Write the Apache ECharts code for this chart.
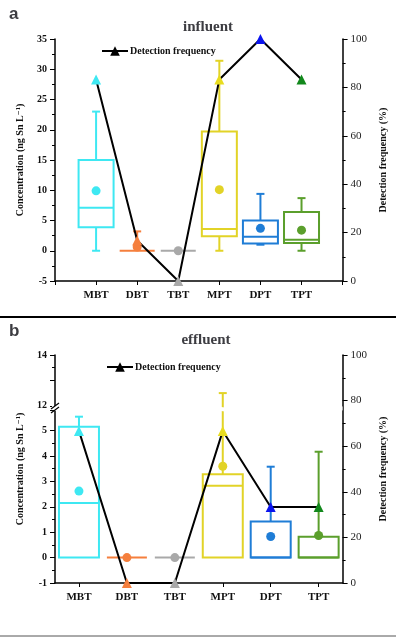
<!doctype html>
<html>
<head>
<meta charset="utf-8">
<title>Organotin concentration - influent / effluent</title>
<script src="https://cdn.jsdelivr.net/npm/echarts@6/dist/echarts.min.js"></script>
<style>
  html, body { margin: 0; padding: 0; background: #fff; }
  #main { width: 396px; height: 637px; }
</style>
</head>
<body>
<div id="main"></div>
<script>
var compounds = ['MBT', 'DBT', 'TBT', 'MPT', 'DPT', 'TPT'];

// box data: [min, q1, median, q3, max]
var influentBox = [
    [0, 3.9, 7.1, 15.0, 23.0],
    [0, 0, 0, 0, 3.2],
    [0, 0, 0, 0, 0],
    [0, 2.4, 3.6, 19.7, 31.4],
    [1.0, 1.2, 2.3, 5.0, 9.4],
    [0, 1.3, 1.8, 6.4, 8.7]
];
var influentMean = [9.9, 0.6, 0, 10.1, 3.7, 3.4];
var influentFreq = [83.3, 16.7, 0, 83.3, 100, 83.3];

var effluentBox = [
    [0, 0, 2.15, 5.15, 5.55],
    [0, 0, 0, 0, 0],
    [0, 0, 0, 0, 0],
    [0, 0, 2.83, 3.28, 12.5],
    [0, 0, 0, 1.42, 3.58],
    [0, 0, 0, 0.82, 4.17]
];
var effluentMean = [2.62, 0, 0, 3.6, 0.83, 0.87];
var effluentFreq = [66.7, 0, 0, 66.7, 33.3, 33.3];

var boxColors = ['#3ee8f2', '#f57f3d', '#a9a9a9', '#e2d327', '#1f7dd6', '#5b9f2c'];
var triColors = ['#3ee8f2', '#f57f3d', '#a9a9a9', '#e8dc1e', '#0b14ee', '#12881c'];

var serif = '"Liberation Serif", "DejaVu Serif", serif';

var chart = echarts.init(document.getElementById('main'));

function boxRenderer(boxWidth, capWidth) {
    return function (params, api) {
        var x = api.value(0);
        var v = [api.value(1), api.value(2), api.value(3), api.value(4), api.value(5)];
        var p = v.map(function (val) { return api.coord([x, val]); });
        var cx = p[0][0];
        var hw = boxWidth / 2, hc = capWidth / 2;
        var color = boxColors[params.dataIndex];
        var style = { stroke: color, lineWidth: 2, fill: null };
        var kids = [];
        function seg(x1, y1, x2, y2) {
            kids.push({ type: 'line', shape: { x1: x1, y1: y1, x2: x2, y2: y2 }, style: style });
        }
        if (v[4] > v[3]) {
            seg(cx, p[3][1], cx, p[4][1]);
            seg(cx - hc, p[4][1], cx + hc, p[4][1]);
        }
        if (v[0] < v[1]) {
            seg(cx, p[1][1], cx, p[0][1]);
            seg(cx - hc, p[0][1], cx + hc, p[0][1]);
        }
        if (v[3] > v[1]) {
            kids.push({
                type: 'rect',
                shape: { x: cx - hw, y: p[3][1], width: boxWidth, height: p[1][1] - p[3][1] },
                style: style
            });
        }
        seg(cx - hw, p[2][1], cx + hw, p[2][1]);
        return { type: 'group', children: kids };
    };
}

function boxData(rows, offset) {
    return rows.map(function (r, i) { return [i + offset].concat(r); });
}

var tickLabel = { fontFamily: serif, fontWeight: 'bold', fontSize: 10, color: '#111' };
var rightLabel = { fontFamily: serif, fontSize: 11, color: '#222' };
var axisLine = { show: true, onZero: false, lineStyle: { color: '#000', width: 1.5 } };
var nameStyle = { fontFamily: serif, fontWeight: 'bold', fontSize: 10, color: '#111' };

chart.setOption({
    animation: false,
    backgroundColor: '#fff',
    title: [
        { text: 'a', left: 4, top: 1, textStyle: { fontFamily: '"Liberation Sans", Arial', fontWeight: 'bold', fontSize: 17 } },
        { text: 'influent', left: 203, textAlign: 'center', top: 15, textStyle: { fontFamily: serif, fontWeight: 'bold', fontSize: 15 } },
        { text: 'b', left: 4, top: 318, textStyle: { fontFamily: '"Liberation Sans", Arial', fontWeight: 'bold', fontSize: 17 } },
        { text: 'effluent', left: 201, textAlign: 'center', top: 328, textStyle: { fontFamily: serif, fontWeight: 'bold', fontSize: 15 } }
    ],
    legend: [
        {
            left: 96, top: 41, itemWidth: 26, itemHeight: 12, itemGap: 2,
            data: ['Detection frequency'],
            textStyle: { fontFamily: serif, fontWeight: 'bold', fontSize: 10, color: '#111', padding: [0, 0, 0, -3] }
        },
        {
            left: 101, top: 357, itemWidth: 26, itemHeight: 12,
            data: ['Detection frequency'],
            textStyle: { fontFamily: serif, fontWeight: 'bold', fontSize: 10, color: '#111', padding: [0, 0, 0, -3] }
        }
    ],
    grid: [
        { left: 55, right: 45, top: 39, height: 242 },
        { left: 55, right: 45, top: 355, height: 228 }
    ],
    xAxis: [
        {
            type: 'category', gridIndex: 0, boundaryGap: false,
            data: [''].concat(compounds, [' ']),
            axisLine: axisLine,
            axisTick: { show: true, length: 4, lineStyle: { color: '#000' } },
            axisLabel: { fontFamily: serif, fontWeight: 'bold', fontSize: 11, color: '#111', margin: 9 }
        },
        {
            type: 'category', gridIndex: 1, boundaryGap: true,
            data: compounds,
            axisLine: axisLine,
            axisTick: { show: true, alignWithLabel: true, length: 4, lineStyle: { color: '#000' } },
            axisLabel: { fontFamily: serif, fontWeight: 'bold', fontSize: 11, color: '#111', margin: 9 }
        }
    ],
    yAxis: [
        {
            type: 'value', gridIndex: 0, min: -5, max: 35, interval: 5,
            name: 'Concentration (ng Sn L\u207B\u00B9)', nameLocation: 'middle', nameGap: 30, nameRotate: 90,
            nameTextStyle: nameStyle,
            axisLine: axisLine,
            axisTick: { show: true, length: 5, lineStyle: { color: '#000' } },
            minorTick: { show: true, splitNumber: 2, length: 3, lineStyle: { color: '#000' } },
            axisLabel: tickLabel,
            splitLine: { show: false }
        },
        {
            type: 'value', gridIndex: 0, position: 'right', min: 0, max: 100, interval: 20,
            name: 'Detection frequency (%)', nameLocation: 'middle', nameGap: 29, nameRotate: 90,
            nameTextStyle: nameStyle,
            axisLine: axisLine,
            axisTick: { show: true, length: 5, lineStyle: { color: '#000' } },
            minorTick: { show: true, splitNumber: 2, length: 3, lineStyle: { color: '#000' } },
            axisLabel: rightLabel,
            splitLine: { show: false }
        },
        {
            type: 'value', gridIndex: 1, min: -1, max: 14, interval: 1,
            breaks: [{ start: 5.8, end: 12, gap: '2%' }],
            breakArea: {
                show: true,
                itemStyle: { color: '#fff', borderColor: '#fff', borderWidth: 0, opacity: 1 },
                zigzagAmplitude: 1,
                expandOnClick: false
            },
            name: 'Concentration (ng Sn L\u207B\u00B9)', nameLocation: 'middle', nameGap: 30, nameRotate: 90,
            nameTextStyle: nameStyle,
            axisLine: axisLine,
            axisTick: { show: true, length: 5, lineStyle: { color: '#000' } },
            minorTick: { show: true, splitNumber: 2, length: 3, lineStyle: { color: '#000' } },
            axisLabel: {
                fontFamily: serif, fontWeight: 'bold', fontSize: 10, color: '#111',
                formatter: function (v) {
                    if (v % 1 !== 0 || v === 13 || (v > 5 && v < 12)) return '';
                    return String(v);
                }
            },
            splitLine: { show: false }
        },
        {
            type: 'value', gridIndex: 1, position: 'right', min: 0, max: 100, interval: 20,
            name: 'Detection frequency (%)', nameLocation: 'middle', nameGap: 29, nameRotate: 90,
            nameTextStyle: nameStyle,
            axisLine: axisLine,
            axisTick: { show: true, length: 5, lineStyle: { color: '#000' } },
            minorTick: { show: true, splitNumber: 2, length: 3, lineStyle: { color: '#000' } },
            axisLabel: rightLabel,
            splitLine: { show: false }
        }
    ],
    series: [
        {
            type: 'custom', xAxisIndex: 0, yAxisIndex: 0, z: 2,
            renderItem: boxRenderer(35, 8),
            encode: { x: 0, y: [1, 2, 3, 4, 5] },
            data: boxData(influentBox, 1)
        },
        {
            type: 'scatter', xAxisIndex: 0, yAxisIndex: 0, z: 3, symbolSize: 9,
            itemStyle: { color: function (p) { return boxColors[p.dataIndex]; }, opacity: 1 },
            data: influentMean.map(function (m, i) { return [i + 1, m]; })
        },
        {
            name: 'Detection frequency', type: 'line', xAxisIndex: 0, yAxisIndex: 1, z: 4,
            symbol: 'triangle', symbolSize: 10,
            lineStyle: { color: '#000', width: 2 },
            itemStyle: { color: '#000' },
            data: influentFreq.map(function (f, i) {
                return { value: [i + 1, f], itemStyle: { color: triColors[i] } };
            })
        },
        {
            type: 'custom', xAxisIndex: 1, yAxisIndex: 2, z: 2,
            renderItem: boxRenderer(40, 8),
            encode: { x: 0, y: [1, 2, 3, 4, 5] },
            data: boxData(effluentBox, 0)
        },
        {
            type: 'scatter', xAxisIndex: 1, yAxisIndex: 2, z: 3, symbolSize: 9,
            itemStyle: { color: function (p) { return boxColors[p.dataIndex]; }, opacity: 1 },
            data: effluentMean.map(function (m, i) { return [i, m]; })
        },
        {
            name: 'Detection frequency', type: 'line', xAxisIndex: 1, yAxisIndex: 3, z: 4,
            symbol: 'triangle', symbolSize: 10,
            lineStyle: { color: '#000', width: 2 },
            itemStyle: { color: '#000' },
            data: effluentFreq.map(function (f, i) {
                return { value: [i, f], itemStyle: { color: triColors[i] } };
            })
        }
    ]
});

// break marks "//" on the left axis of panel b
var yLow = chart.convertToPixel({ yAxisIndex: 2 }, 5.8);
var yHigh = chart.convertToPixel({ yAxisIndex: 2 }, 12);
var yMid = (yLow + yHigh) / 2;
chart.setOption({
    graphic: [
        { type: 'line', shape: { x1: 0, y1: 317, x2: 396, y2: 317 }, style: { stroke: '#000', lineWidth: 2 } },
        { type: 'line', shape: { x1: 0, y1: 636, x2: 396, y2: 636 }, style: { stroke: '#555', lineWidth: 1 } },
        { type: 'rect', shape: { x: 52, y: yMid - 2, width: 6, height: 4 }, style: { fill: '#fff' }, z: 100 },
        { type: 'line', shape: { x1: 51, y1: yMid + 1, x2: 59, y2: yMid - 5 }, style: { stroke: '#000', lineWidth: 1.2 }, z: 101 },
        { type: 'line', shape: { x1: 51, y1: yMid + 5, x2: 59, y2: yMid - 1 }, style: { stroke: '#000', lineWidth: 1.2 }, z: 101 }
    ]
});

window.addEventListener('resize', function () {
    chart.resize();
});
</script>
</body>
</html>
